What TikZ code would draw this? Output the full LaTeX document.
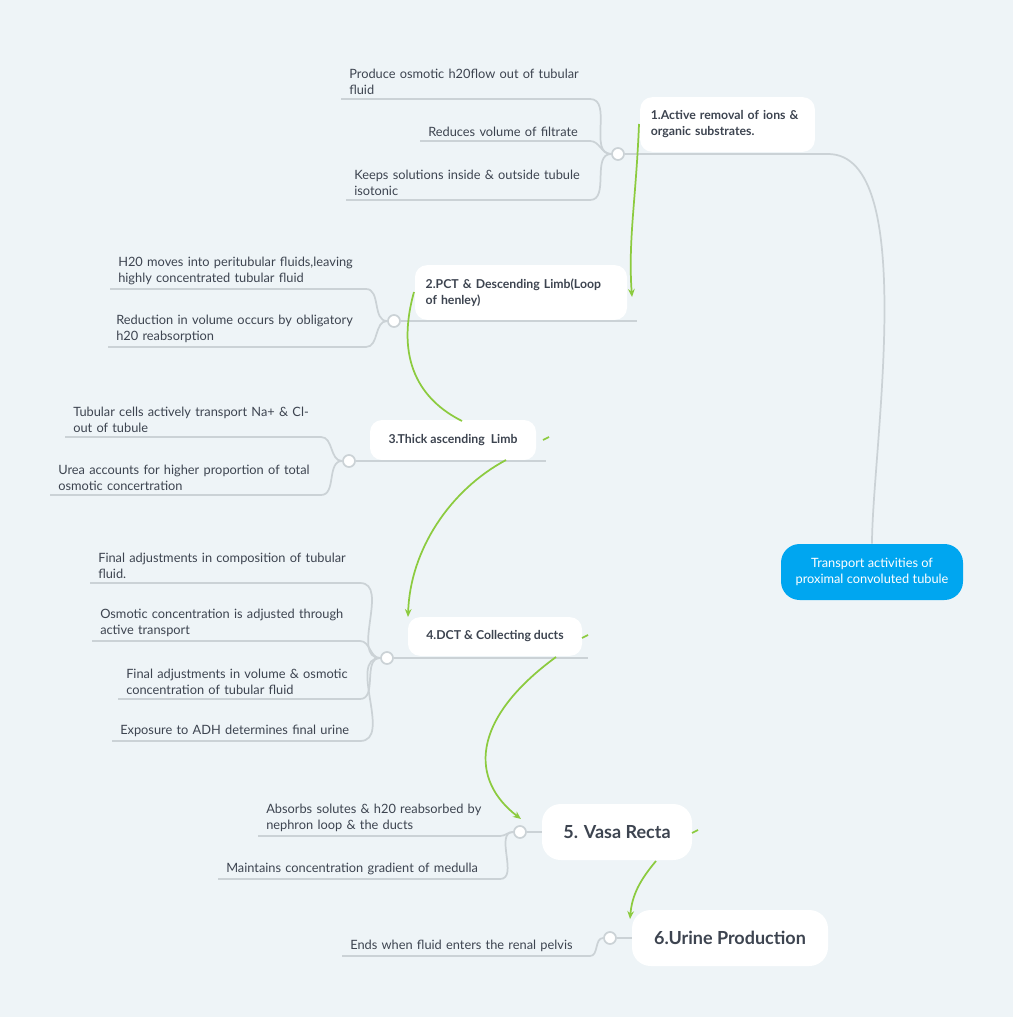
\documentclass[tikz,border=0pt]{standalone}
\usepackage{fontspec}
\setmainfont{Lato}
\definecolor{bg}{HTML}{EEF4F7}
\definecolor{ln}{HTML}{CBD2D6}
\definecolor{gr}{HTML}{8CCB3F}
\definecolor{tx}{HTML}{3D4450}
\definecolor{bl}{HTML}{00A6F0}
\tikzset{
 conn/.style={draw=ln,line width=1.3pt},
 garrow/.style={draw=gr,line width=1.3pt,-{Stealth[length=6pt,width=5pt]}},
 leaf/.style={text=tx,font=\fontsize{9.6}{12}\selectfont,align=left,inner sep=0pt},
 topic/.style={fill=white,rounded corners=9pt,text=tx,font=\bfseries\fontsize{9.2}{12}\selectfont,align=left,inner sep=8pt},
 big/.style={topic,rounded corners=14pt,font=\bfseries\fontsize{13.5}{16}\selectfont},
 dot/.style={circle,draw=ln,line width=1.3pt,fill=white,minimum size=9pt,inner sep=0pt}
}
\usetikzlibrary{arrows.meta}
\newcommand\myleaf[6]{%
 \coordinate (#1a) at (#2,#4);\coordinate (#1b) at (#3,#4);
 \pgfmathsetmacro\lw{(#3-#2-18)*0.75}%
 \node[leaf,anchor=south west,text width=\lw pt] (#1) at (#2+8,#4-4) {#6};
 \draw[conn] (#1a) -- (#1b) to[out=0,in=180] (#5.west);}
\begin{document}
\begin{tikzpicture}[x=0.75pt,y=-0.75pt]
\fill[bg] (0,0) rectangle (1013,1017);
\useasboundingbox (0,0) rectangle (1013,1017);
% root
\node[fill=bl,rounded corners=14pt,text=white,font=\fontsize{9.6}{12}\selectfont,align=center,minimum width=136.5pt,minimum height=42pt] (root) at (872,572) {Transport activities of\\proximal convoluted tubule};
% topics
\node[topic,minimum width=131pt,minimum height=41pt,text width=115pt] (t1) at (727.5,124.5) {1.Active removal of ions \&\\organic substrates.};
\node[topic,minimum width=159pt,minimum height=41pt,text width=143pt] (t2) at (521,292.5) {2.PCT \& Descending Limb(Loop of henley)};
\node[topic,minimum width=124.5pt,minimum height=30pt,align=center] (t3) at (453,440) {3.Thick ascending\ \ Limb};
\node[topic,minimum width=130.5pt,minimum height=29pt,align=center] (t4) at (495,636.5) {4.DCT \& Collecting ducts};
\node[big,minimum width=112.5pt,minimum height=42pt,align=center] (t5) at (617,832) {5. Vasa Recta};
\node[big,minimum width=147pt,minimum height=42pt,align=center] (t6) at (730,938) {6.Urine Production};
% trunk and underlines
\coordinate (u1a) at (640,154);\coordinate (u1b) at (828,154);
\draw[conn] (u1a) -- (u1b) to[out=0,in=90,looseness=0.6] (root.north);
\coordinate (u2a) at (415,321);\coordinate (u2b) at (637,321);\draw[conn] (u2a)--(u2b);
\coordinate (u3a) at (370,461);\coordinate (u3b) at (546,461);\draw[conn] (u3a)--(u3b);
\coordinate (u4a) at (408,658);\coordinate (u4b) at (588,658);\draw[conn] (u4a)--(u4b);
\coordinate (u5a) at (542,832);\coordinate (u6a) at (632,938);
% dots
\node[dot] (d1) at (618,154) {};\draw[conn] (d1.east)--(u1a);
\node[dot] (d2) at (394,321) {};\draw[conn] (d2.east)--(u2a);
\node[dot] (d3) at (349,461) {};\draw[conn] (d3.east)--(u3a);
\node[dot] (d4) at (387,658) {};\draw[conn] (d4.east)--(u4a);
\node[dot] (d5) at (520,832) {};\draw[conn] (d5.east)--(u5a);
\node[dot] (d6) at (610,938) {};\draw[conn] (d6.east)--(u6a);
% leaves
\myleaf{a1}{341}{590}{99}{d1}{Produce osmotic h20flow out of tubular fluid}
\myleaf{a2}{420}{590}{141}{d1}{Reduces volume of filtrate}
\myleaf{a3}{346}{590}{200}{d1}{Keeps solutions inside \& outside tubule isotonic}
\myleaf{b1}{110}{366}{289}{d2}{H20 moves into peritubular fluids,leaving highly concentrated tubular fluid}
\myleaf{b2}{108}{366}{347}{d2}{Reduction in volume occurs by obligatory h20 reabsorption}
\myleaf{c1}{65}{321}{437}{d3}{Tubular cells actively transport Na+ \& Cl- out of tubule}
\myleaf{c2}{50}{321}{495}{d3}{Urea accounts for higher proportion of total osmotic concertration}
\myleaf{e1}{90}{360}{583}{d4}{Final adjustments in composition of tubular fluid.}
\myleaf{e2}{92}{360}{641}{d4}{Osmotic concentration is adjusted through active transport}
\myleaf{e3}{118}{360}{699}{d4}{Final adjustments in volume \& osmotic concentration of tubular fluid}
\myleaf{e4}{112}{360}{741}{d4}{Exposure to ADH determines final urine}
\myleaf{f1}{258}{500}{836}{d5}{Absorbs solutes \& h20 reabsorbed by nephron loop \& the ducts}
\myleaf{f2}{218}{500}{879}{d5}{Maintains concentration gradient of medulla}
\myleaf{g1}{342}{590}{956}{d6}{Ends when fluid enters the renal pelvis}
% green arrows
\coordinate (s1) at (639,124);\coordinate (e1x) at (632,297);
\draw[garrow] (s1) .. controls (636,200) and (628,240) .. (e1x);
\coordinate (s2) at (414,292);\coordinate (e2x) at (462,421);
\draw[draw=gr,line width=1.3pt] (s2) .. controls (395,360) and (420,400) .. (e2x);
\coordinate (s3) at (506,460);\coordinate (e3x) at (408,617);
\draw[garrow] (s3) .. controls (450,490) and (410,550) .. (e3x);
\coordinate (s4) at (556,657);\coordinate (e4x) at (521,819);
\draw[garrow] (s4) .. controls (470,720) and (470,780) .. (e4x);
\coordinate (s5) at (656,861);\coordinate (e5x) at (630,919);
\draw[garrow] (s5) .. controls (640,880) and (632,895) .. (e5x);
\coordinate (k3a) at (543,440);\coordinate (k3b) at (549,437);\draw[gr,line width=1.3pt] (k3a)--(k3b);
\coordinate (k4a) at (582,638);\coordinate (k4b) at (588,635);\draw[gr,line width=1.3pt] (k4a)--(k4b);
\coordinate (k5a) at (692,833);\coordinate (k5b) at (698,830);\draw[gr,line width=1.3pt] (k5a)--(k5b);
\end{tikzpicture}
\end{document}
